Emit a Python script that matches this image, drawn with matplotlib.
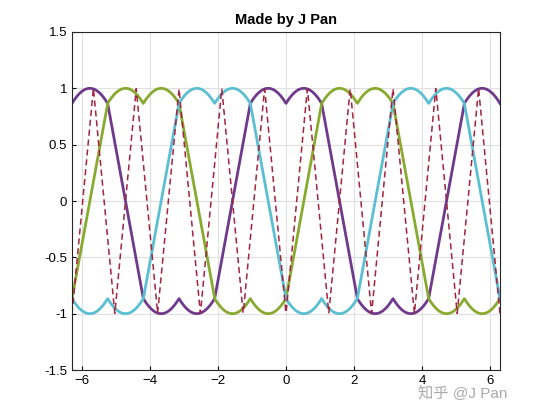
import numpy as np
import matplotlib.pyplot as plt

plt.rcParams['font.family'] = ['Liberation Sans', 'Noto Sans CJK SC', 'DejaVu Sans']

# phase offsets of the three solid curves and the colours
phases = [0.0, 2 * np.pi / 3, 4 * np.pi / 3]
colors = ['#6F3A8C', '#88AA30', '#5BBFD2']
tri_period = 2 * np.pi / 5
xticks = [-6, -4, -2, 0, 2, 4, 6]
yticks = [-1.5, -1, -0.5, 0, 0.5, 1, 1.5]

x = np.linspace(-2 * np.pi, 2 * np.pi, 2000)


def hump_wave(t):
    # top: two cosine humps, linear ramp down, two humps at bottom, ramp up
    s = np.pi / 3
    u = np.mod(t + s, 2 * np.pi)
    y = np.empty_like(u)
    top = u < 2 * s
    y[top] = np.cos(np.mod(u[top], s) - s / 2)
    down = (u >= 2 * s) & (u < 3 * s)
    y[down] = np.cos(s / 2) * (1 - 2 * (u[down] - 2 * s) / s)
    bot = (u >= 3 * s) & (u < 5 * s)
    y[bot] = -np.cos(np.mod(u[bot] - 3 * s, s) - s / 2)
    up = u >= 5 * s
    y[up] = np.cos(s / 2) * (-1 + 2 * (u[up] - 5 * s) / s)
    return y


fig = plt.figure(figsize=(5.54, 4.15), dpi=100)
ax = fig.add_axes([72 / 554, 45 / 415, 428 / 554, 338 / 415])

for ph, c in zip(phases, colors):
    ax.plot(x, hump_wave(x - ph), color=c, lw=2)

tri = 2 * np.abs(np.mod(x + 2 * np.pi, tri_period) / tri_period - 0.5)
ax.plot(x, -(2 * tri - 1), '--', color='#A2243F', lw=1.1, dashes=(4, 2.5))

ax.set_xlim(-2 * np.pi, 2 * np.pi)
ax.set_ylim(-1.5, 1.5)
ax.set_xticks(xticks)
ax.set_yticks(yticks)
ax.set_yticklabels(['-1.5', '-1', '-0.5', '0', '0.5', '1', '1.5'])
ax.grid(True, color='#e0e0e0', lw=0.8)
ax.tick_params(labelsize=9.5, direction='in', length=3)
for sp in ax.spines.values():
    sp.set_color('#262626')
ax.set_title('Made by J Pan', fontweight='bold', fontsize=10.5)
fig.text(0.755, 0.04, '知乎 @J Pan', color='#aaaaaa', fontsize=11)

fig.savefig('out.png')
